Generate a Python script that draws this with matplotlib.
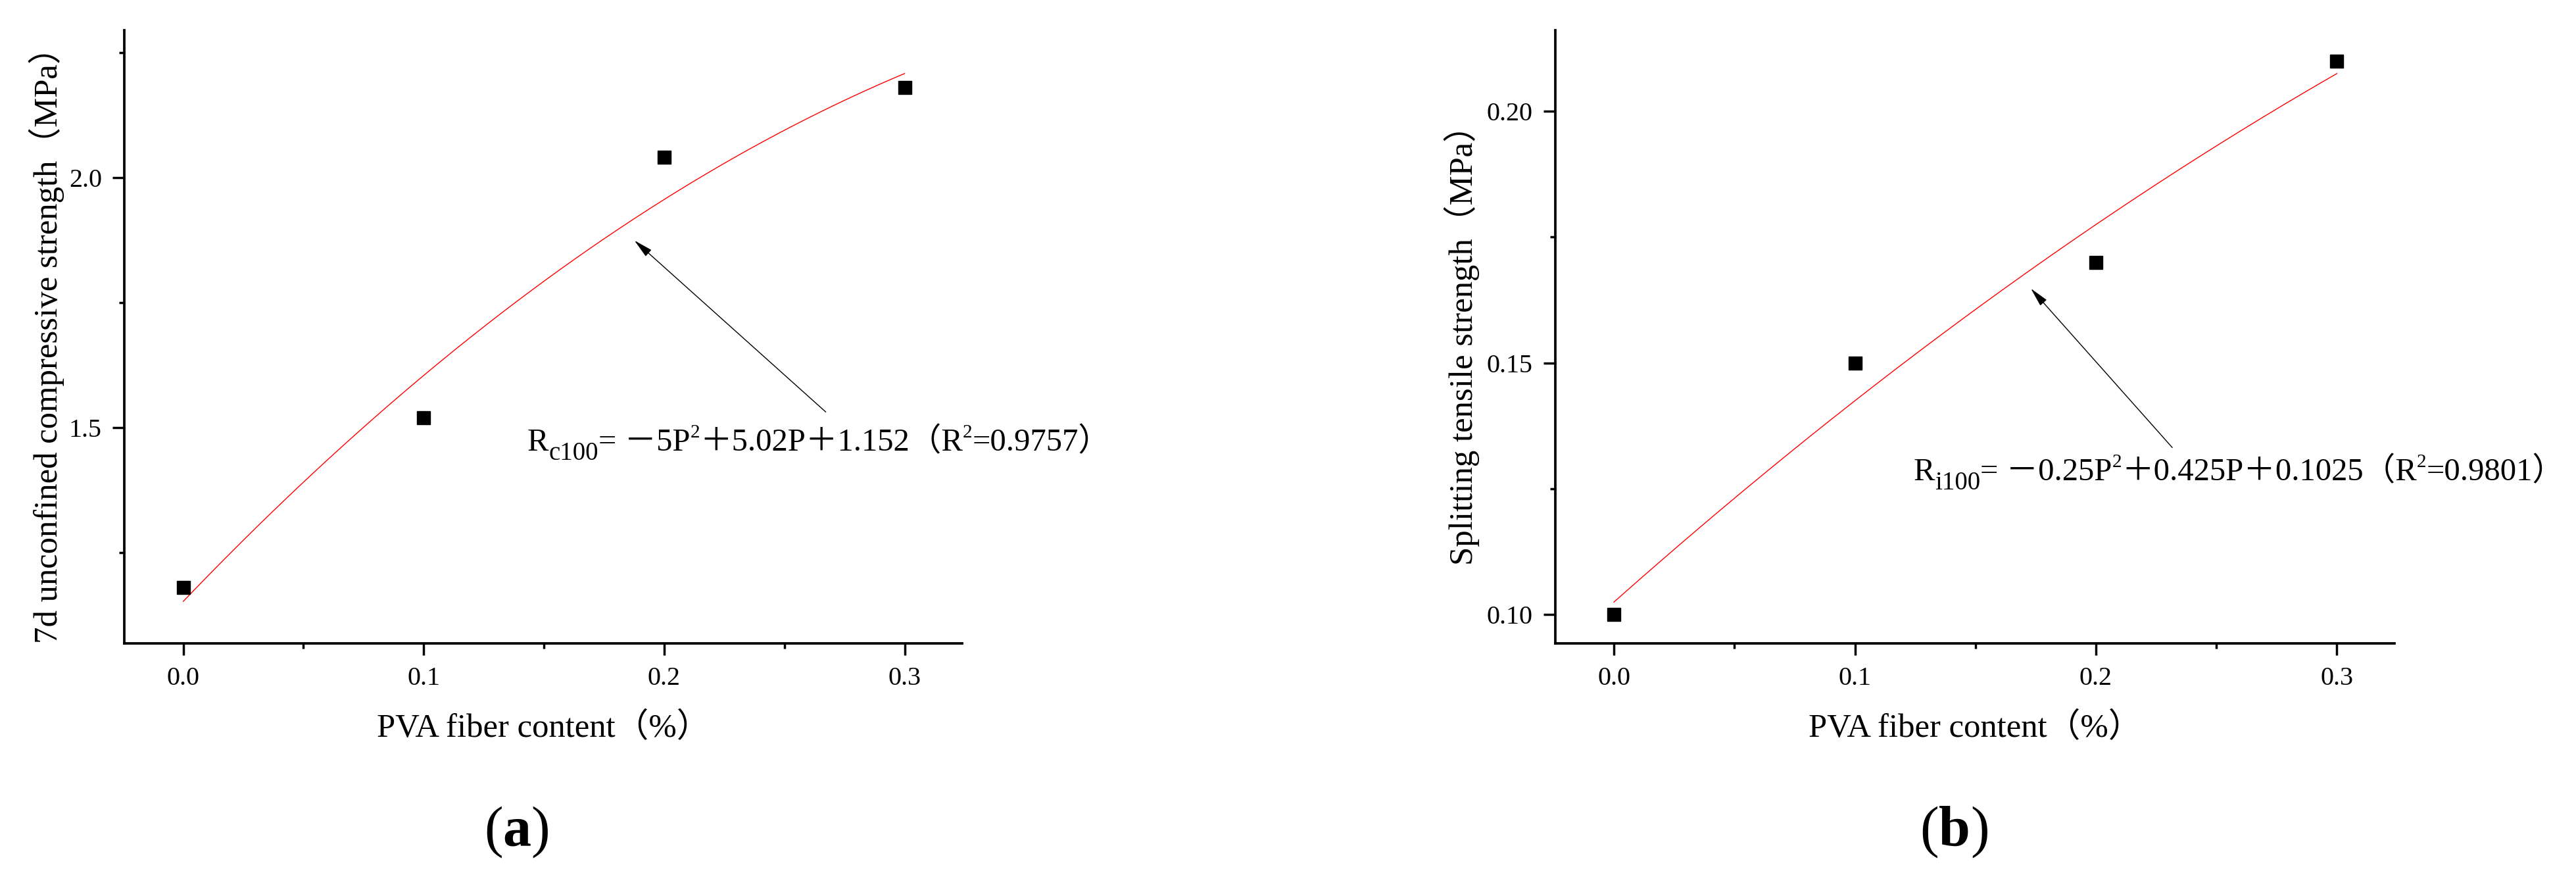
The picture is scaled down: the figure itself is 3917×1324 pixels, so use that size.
import numpy as np
import matplotlib
matplotlib.use("Agg")
import matplotlib.pyplot as plt
from matplotlib import font_manager as fm
from matplotlib.ft2font import FT2Font

# ---------------- data ----------------
fiber_content = [0.0, 0.1, 0.2, 0.3]
ucs_7d = [1.18, 1.52, 2.04, 2.18]          # (a) 7d unconfined compressive strength
splitting = [0.10, 0.15, 0.17, 0.21]       # (b) splitting tensile strength
fit_a = [-5.0, 5.02, 1.152]                # Rc100 = -5P^2 + 5.02P + 1.152
fit_b = [-0.25, 0.425, 0.1025]             # Ri100 = -0.25P^2 + 0.425P + 0.1025
x_ticks = [0.0, 0.1, 0.2, 0.3]
x_minor = [0.05, 0.15, 0.25]
y_ticks_a = [1.5, 2.0]
y_minor_a = [1.25, 1.75, 2.25]
y_ticks_b = [0.10, 0.15, 0.20]
y_minor_b = [0.125, 0.175]
x_label = "PVA fiber content（%）"
y_label_a = "7d unconfined compressive strength（MPa）"
y_label_b = "Splitting tensile strength（MPa）"

W, H, DPI = 3917, 1324, 100
SERIF = "Liberation Serif"
FAM = [SERIF, "Noto Sans CJK SC", "DejaVu Sans"]
plt.rcParams["font.family"] = FAM

fig = plt.figure(figsize=(W / DPI, H / DPI), dpi=DPI)
fig.patch.set_facecolor("white")

ax_a = fig.add_axes([189 / W, 1 - 978 / H, 1274 / W, 932 / H])
ax_b = fig.add_axes([2365 / W, 1 - 978 / H, 1276 / W, 932 / H])

_serif_path = fm.findfont(fm.FontProperties(family=SERIF))
_serif_bold_path = fm.findfont(fm.FontProperties(family=SERIF, weight="bold"))


def advance(s, size, bold=False):
    f = FT2Font(_serif_bold_path if bold else _serif_path)
    f.set_size(size, DPI)
    em = size * DPI / 72.0
    tot = 0.0
    for c in s:
        if f.get_char_index(ord(c)) == 0:
            tot += em  # full-width glyph from CJK fallback
        else:
            g = f.load_char(ord(c))
            tot += g.linearHoriAdvance / 65536.0
    return tot


def rich_text(x_px, y_px, segs, ha="left"):
    """segs: (text, size_pt, dy_px, weight); x_px, y_px in display pixels (baseline)."""
    widths = [advance(s, sz, w == "bold") for s, sz, dy, w in segs]
    total = sum(widths)
    x0 = x_px - (total / 2.0 if ha == "center" else 0.0)
    dx = 0.0
    for (s, sz, dy, w), wd in zip(segs, widths):
        fig.text((x0 + dx) / W, (y_px + dy) / H, s, fontsize=sz, family=FAM,
                 weight=w, ha="left", va="baseline")
        dx += wd


def style_axes(ax, xlim, ylim, yticks, yminor, yfmt, ylab, ylab_x):
    ax.set_xlim(*xlim)
    ax.set_ylim(*ylim)
    ax.set_xticks(x_ticks)
    ax.set_xticks(x_minor, minor=True)
    ax.set_xticklabels([f"{v:.1f}" for v in x_ticks])
    ax.set_yticks(yticks)
    ax.set_yticks(yminor, minor=True)
    ax.set_yticklabels([yfmt.format(v) for v in yticks])
    for side in ("top", "right"):
        ax.spines[side].set_visible(False)
    for side in ("left", "bottom"):
        ax.spines[side].set_linewidth(2.7)
    ax.tick_params(which="major", direction="out", length=13, width=2.5,
                   labelsize=28.8, colors="black")
    ax.tick_params(axis="x", which="major", pad=12)
    ax.tick_params(axis="y", which="major", pad=11.5)
    ax.tick_params(which="minor", direction="out", length=6, width=2.5)
    ax.set_xlabel(x_label, fontsize=36.5, va="baseline")
    ax.xaxis.set_label_coords(0.5, -0.152)
    ax.set_ylabel(ylab, fontsize=36.5, va="baseline")
    ax.yaxis.set_label_coords(ylab_x, 0.5)


xfit = np.linspace(fiber_content[0], fiber_content[-1], 200)

# ---- (a) ----
style_axes(ax_a, (-0.0245, 0.3239), (1.068, 2.2945), y_ticks_a, y_minor_a,
           "{:.1f}", y_label_a, -0.0803)
ax_a.plot(xfit, np.polyval(fit_a, xfit), color="#ff0000", lw=1.0, zorder=2)
ax_a.plot(fiber_content, ucs_7d, "s", color="black", ms=14, zorder=3)
ax_a.annotate("", xy=(0.1876, 1.8741), xytext=(0.2672, 1.5309),
              arrowprops=dict(arrowstyle="-|>,head_length=0.9,head_width=0.2",
                              color="black", lw=1.0, shrinkA=0, shrinkB=0,
                              mutation_scale=20))

# ---- (b) ----
style_axes(ax_b, (-0.0243, 0.3239), (0.0943, 0.2161), y_ticks_b, y_minor_b,
           "{:.2f}", y_label_b, -0.0987)
ax_b.plot(xfit, np.polyval(fit_b, xfit), color="#ff0000", lw=1.0, zorder=2)
ax_b.plot(fiber_content, splitting, "s", color="black", ms=14, zorder=3)
ax_b.annotate("", xy=(0.1730, 0.1648), xytext=(0.2317, 0.1332),
              arrowprops=dict(arrowstyle="-|>,head_length=0.9,head_width=0.2",
                              color="black", lw=1.0, shrinkA=0, shrinkB=0,
                              mutation_scale=20))

# ---- equations ----
MAIN, SUB, SUP = 35, 28, 21
eq_a = [("R", MAIN, 0, "normal"), ("c100", SUB, -14, "normal"),
        ("= －5P", MAIN, 0, "normal"), ("2", SUP, 20, "normal"),
        ("＋5.02P＋1.152（R", MAIN, 0, "normal"), ("2", SUP, 20, "normal"),
        ("=0.9757）", MAIN, 0, "normal")]
eq_b = [("R", MAIN, 0, "normal"), ("i100", SUB, -14, "normal"),
        ("= －0.25P", MAIN, 0, "normal"), ("2", SUP, 20, "normal"),
        ("＋0.425P＋0.1025（R", MAIN, 0, "normal"), ("2", SUP, 20, "normal"),
        ("=0.9801）", MAIN, 0, "normal")]
pa = ax_a.transData.transform((0.1431, 1.4533))
pb = ax_b.transData.transform((0.1244, 0.12667))
rich_text(pa[0], pa[1], eq_a)
rich_text(pb[0], pb[1], eq_b)

# ---- panel labels ----
PL = 62
rich_text(786, H - 1285, [("(", PL, 0, "normal"), ("a", PL, 0, "bold"), (")", PL, 0, "normal")], ha="center")
rich_text(2972, H - 1285, [("(", PL, 0, "normal"), ("b", PL, 0, "bold"), (")", PL, 0, "normal")], ha="center")

fig.savefig("out.png", dpi=DPI, facecolor="white")
